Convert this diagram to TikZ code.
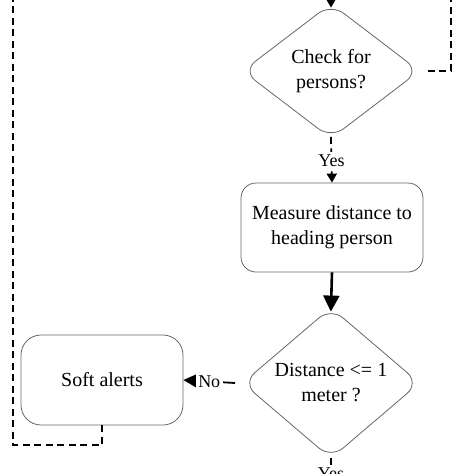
\documentclass[tikz,border=0pt]{standalone}
\usepackage{fontspec}
\setmainfont{Liberation Serif}
\usetikzlibrary{shapes.geometric,arrows.meta}
\begin{document}
\begin{tikzpicture}[x=1pt,y=-1pt,
  txt/.style={font=\fontsize{20pt}{25pt}\selectfont, align=center},
  lbl/.style={font=\fontsize{18pt}{20pt}\selectfont, inner sep=2.5pt},
  decision/.style={txt, diamond, draw=black!60, line width=0.8pt, rounded corners=16pt,
    minimum width=177pt, minimum height=135pt, inner sep=0pt},
  process/.style={txt, rectangle, draw=black!60, line width=0.8pt, inner sep=0pt},
  conn/.style={line width=1.8pt, black},
  dashconn/.style={conn, dash pattern=on 7pt off 4.5pt},
  smalltip/.style={-{Triangle[length=9pt,width=10pt]}},
  bigtip/.style={-{Triangle[length=16pt,width=16pt]}},
]
\useasboundingbox (0,0) rectangle (474,474);
\node[decision] (d1) at (331,71) {Check for\\persons?};
\node[process, minimum width=182pt, minimum height=89pt, rounded corners=15pt] (b1) at (332,227.5) {Measure distance to\\heading person};
\node[decision] (d2) at (331,383) {Distance {<}= 1\\meter ?};
\node[process, minimum width=162pt, minimum height=90pt, rounded corners=20pt] (b2) at (102,380) {Soft alerts};
\node[lbl, anchor=north] (yes2) at (331,465) {Yes};
\coordinate (top1) at (331,-12);
\coordinate (r1) at (451,71);
\coordinate (r2) at (451,-2);
\coordinate (l1) at (102,445);
\coordinate (l2) at (13,445);
\coordinate (l3) at (13,-2);
% connectors
\draw[conn, smalltip, shorten >=-4.5pt] (top1) -- (d1.north);
\draw[dashconn, smalltip, shorten <=-2pt] (d1.south) -- node[lbl, fill=white] {Yes} (b1.north);
\draw[conn, line width=2.6pt, bigtip, shorten >=-4.5pt] (b1.south) -- (d2.north);
\draw[conn, shorten <=-1pt] (d2.south) -- (yes2.north);
\draw[conn, bigtip] ([xshift=-7pt]d2.west) -- node[lbl, fill=white] {No} (b2.east);
\draw[dashconn] ([xshift=8pt]d1.east) -- (r1) -- (r2);
\draw[dashconn] (b2.south) -- (l1) -- (l2) -- (l3);
\end{tikzpicture}
\end{document}
